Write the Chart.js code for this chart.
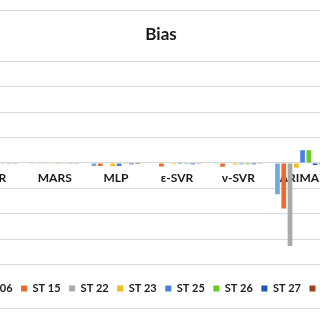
<!DOCTYPE html>
<html>
<head>
<meta charset="utf-8">
<script src="https://cdn.jsdelivr.net/npm/chart.js@4"></script>
<style>
  html, body { margin: 0; padding: 0; background: #fff; overflow: hidden; width: 320px; height: 320px; }
  #box { position: absolute; left: -59px; top: 10px; width: 440px; height: 297px; border-top: 1px solid #D9D9D9; border-bottom: 1px solid #D9D9D9; }
  #c { display: block; }
</style>
</head>
<body>
<div id="box"><canvas id="c" width="440" height="297"></canvas></div>
<script>
const categories = ["MLR", "MARS", "MLP", "ε-SVR", "ν-SVR", "ARIMA"];
const seriesNames = ["ST 06", "ST 15", "ST 22", "ST 23", "ST 25", "ST 26", "ST 27", "ST 28"];
const st06 = [-0.01, -0.01, -0.12, -0.02, -0.03, -1.23];
const st15 = [-0.01, -0.01, -0.12, -0.14, -0.15, -1.79];
const st22 = [-0.01, -0.01, -0.02, -0.02, -0.02, -3.27];
const st23 = [-0.01, -0.01, -0.12, -0.05, -0.06, -0.19];
const st25 = [-0.01, -0.01, -0.12, -0.04, -0.05, 0.50];
const st26 = [-0.01, -0.01, -0.03, -0.04, -0.05, 0.50];
const st27 = [-0.01, -0.01, -0.05, -0.05, -0.05, -0.08];
const st28 = [-0.01, -0.01, -0.04, -0.03, -0.03, -0.05];
const yTicks = [-4, -3, -2, -1, 0, 1, 2, 3, 4];
const colors = ["#6FA8E4", "#EE6A2C", "#A7ABA9", "#F4BE16", "#4A80E6", "#66CC22", "#2058BA", "#A0431C"];
const values = [st06, st15, st22, st23, st25, st26, st27, st28];

new Chart(document.getElementById("c"), {
  type: "bar",
  data: {
    labels: categories,
    datasets: values.map((v, i) => ({
      label: seriesNames[i],
      data: v,
      backgroundColor: colors[i],
      borderWidth: 0,
      barPercentage: 0.75,
      categoryPercentage: 0.82
    }))
  },
  options: {
    responsive: false,
    animation: false,
    devicePixelRatio: 1,
    layout: { padding: { left: 0, right: 0, top: 0, bottom: 4 } },
    plugins: {
      title: {
        display: true,
        text: "Bias",
        color: "#1a1a1a",
        font: { family: "Lato", size: 17, weight: "bold" },
        padding: { top: 13, bottom: 17 }
      },
      legend: {
        display: true,
        position: "bottom",
        labels: {
          boxWidth: 6,
          boxHeight: 6,
          padding: 8.5,
          color: "#222",
          font: { family: "Lato", size: 11, weight: "bold" }
        }
      },
      tooltip: { enabled: false }
    },
    scales: {
      x: {
        position: { y: 0 },
        z: 1,
        grid: { display: false, drawTicks: false },
        border: { display: true, color: "#D9D9D9" },
        ticks: {
          color: "#1a1a1a",
          padding: 8,
          autoSkip: false,
          maxRotation: 0,
          font: { family: "Lato", size: 12, weight: "bold" }
        }
      },
      xBottom: {
        type: "category",
        position: "bottom",
        afterFit: (s) => { s.height = 10; },
        grid: { display: false, drawTicks: false },
        border: { display: false },
        ticks: { display: false }
      },
      y: {
        position: "left",
        min: -4,
        max: 4,
        afterBuildTicks: (s) => { s.ticks = yTicks.map(v => ({ value: v })); },
        afterFit: (s) => { s.width = 22; },
        grid: { color: "#D9D9D9", drawTicks: false },
        border: { display: false },
        ticks: { display: false }
      },
      yRight: {
        position: "right",
        min: -4,
        max: 4,
        afterFit: (s) => { s.width = 51; },
        grid: { display: false, drawTicks: false },
        border: { display: false },
        ticks: { display: false }
      }
    }
  }
});
</script>
</body>
</html>
